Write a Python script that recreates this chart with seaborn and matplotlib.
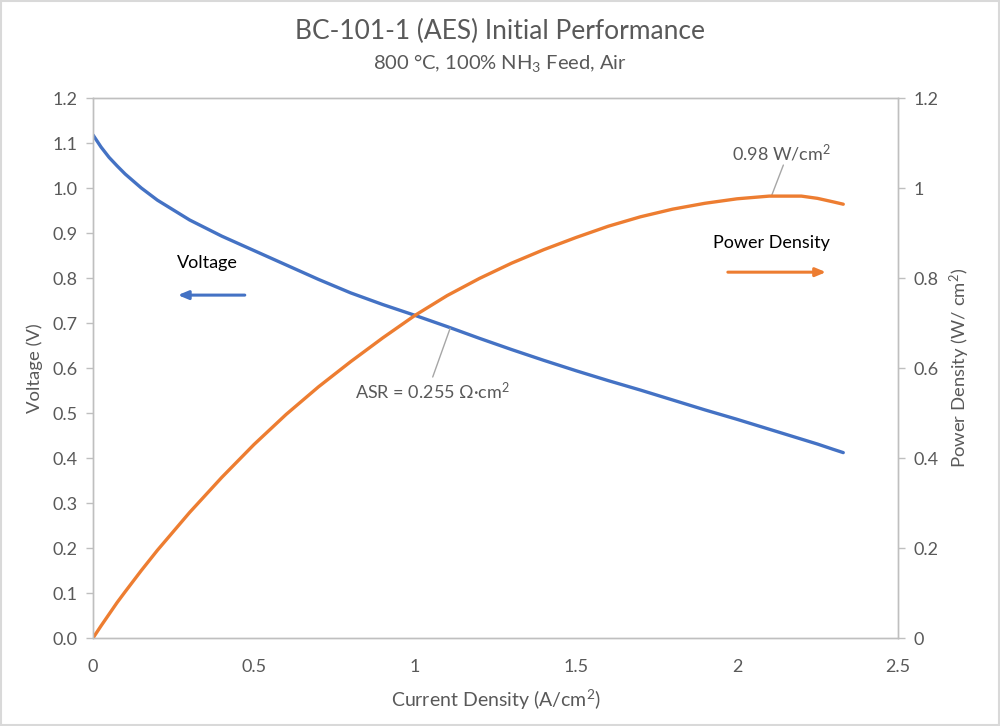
import matplotlib
matplotlib.use("Agg")
import pandas as pd
import seaborn as sns
import matplotlib.pyplot as plt
from matplotlib.patches import Rectangle

# values
current = [0.0, 0.025, 0.05, 0.075, 0.1, 0.15, 0.2, 0.3, 0.4, 0.5, 0.6, 0.7, 0.8, 0.9,
           1.0, 1.1, 1.2, 1.3, 1.4, 1.5, 1.6, 1.7, 1.8, 1.9, 2.0, 2.1, 2.2, 2.25,
           2.3, 2.33]
voltage = [1.118, 1.091, 1.068, 1.049, 1.031, 1.000, 0.973, 0.929, 0.893, 0.861,
           0.829, 0.797, 0.767, 0.741, 0.717, 0.692, 0.666, 0.641, 0.617, 0.594,
           0.572, 0.551, 0.529, 0.507, 0.486, 0.464, 0.442, 0.431, 0.419, 0.412]
power = [0.0, 0.027, 0.053, 0.079, 0.103, 0.150, 0.195, 0.279, 0.357, 0.430,
         0.497, 0.558, 0.614, 0.667, 0.717, 0.761, 0.799, 0.833, 0.863, 0.890,
         0.915, 0.936, 0.953, 0.966, 0.976, 0.982, 0.982, 0.977, 0.969, 0.964]

v_ticks = [0.0, 0.1, 0.2, 0.3, 0.4, 0.5, 0.6, 0.7, 0.8, 0.9, 1.0, 1.1, 1.2]
p_ticks = [0, 0.2, 0.4, 0.6, 0.8, 1, 1.2]
p_tick_labels = ["0", "0.2", "0.4", "0.6", "0.8", "1", "1.2"]
x_ticks = [0, 0.5, 1, 1.5, 2, 2.5]
x_tick_labels = ["0", "0.5", "1", "1.5", "2", "2.5"]

df = pd.DataFrame({"Current": current, "Voltage": voltage, "Power": power})

BLUE = "#4472C4"
ORANGE = "#ED7D31"
GRAY = "#595959"
AXC = "#BFBFBF"

sns.set_style("white")
plt.rcParams["font.family"] = ["Lato", "DejaVu Sans"]
plt.rcParams["mathtext.fontset"] = "custom"
plt.rcParams["mathtext.rm"] = "Lato"
plt.rcParams["mathtext.it"] = "Lato"

fig = plt.figure(figsize=(10, 7.26), dpi=100)
ax = fig.add_axes([0.093, 0.1212, 0.805, 0.7438])
ax2 = ax.twinx()

sns.lineplot(data=df, x="Current", y="Voltage", ax=ax, color=BLUE, lw=2.4)
sns.lineplot(data=df, x="Current", y="Power", ax=ax2, color=ORANGE, lw=2.4)

ax.set_xlim(0, 2.5)
ax.set_ylim(0, 1.2)
ax2.set_ylim(0, 1.2)
ax.set_xticks(x_ticks)
ax.set_xticklabels(x_tick_labels)
ax.set_yticks(v_ticks)
ax.set_yticklabels([f"{v:.1f}" for v in v_ticks])
ax2.set_yticks(p_ticks)
ax2.set_yticklabels(p_tick_labels)

for a in (ax, ax2):
    for s in a.spines.values():
        s.set_color(AXC)
        s.set_linewidth(1.0)
    a.tick_params(colors=AXC, labelcolor=GRAY, labelsize=13, length=5, width=1, direction="out")
    a.grid(False)
ax.tick_params(axis="x", pad=10)
ax.tick_params(axis="y", pad=6)
ax2.tick_params(axis="y", pad=6)

ax.set_xlabel("Current Density (A/cm$^2$)", fontsize=14, color=GRAY, labelpad=9)
ax.set_ylabel("Voltage (V)", fontsize=13.3, color=GRAY, labelpad=7)
ax2.set_ylabel("Power Density (W/ cm$^2$)", fontsize=13.3, color=GRAY, labelpad=7)

fig.text(0.5, 0.956, "BC-101-1 (AES) Initial Performance", ha="center", va="center",
         fontsize=19, color=GRAY)
fig.text(0.5, 0.913, "800 °C, 100% NH$_3$ Feed, Air", ha="center", va="center",
         fontsize=14.5, color=GRAY)

# annotations
ax.text(0.354, 0.834, "Voltage", ha="center", va="center", fontsize=13, color="black")
ax.annotate("", xy=(0.255, 0.762), xytext=(0.480, 0.762),
            arrowprops=dict(arrowstyle="-|>,head_length=0.6,head_width=0.25", color=BLUE, lw=2.2))
ax.text(2.108, 0.878, "Power Density", ha="center", va="center", fontsize=13, color="black")
ax.annotate("", xy=(2.285, 0.813), xytext=(1.963, 0.813),
            arrowprops=dict(arrowstyle="-|>,head_length=0.6,head_width=0.25", color=ORANGE, lw=2.2))

ax.plot([2.144, 2.108], [1.051, 0.984], color="#A6A6A6", lw=1)
ax.text(2.138, 1.078, "0.98 W/cm$^2$", ha="center", va="center", fontsize=13, color=GRAY)
ax.plot([1.109, 1.055], [0.688, 0.580], color="#A6A6A6", lw=1)
ax.text(1.054, 0.547, "ASR = 0.255 Ω·cm$^2$", ha="center", va="center", fontsize=13, color=GRAY)

fig.patches.append(Rectangle((0.001, 0.001), 0.998, 0.998, transform=fig.transFigure,
                             fill=False, edgecolor="#D9D9D9", lw=1.5))

fig.savefig("out.png", dpi=100)
